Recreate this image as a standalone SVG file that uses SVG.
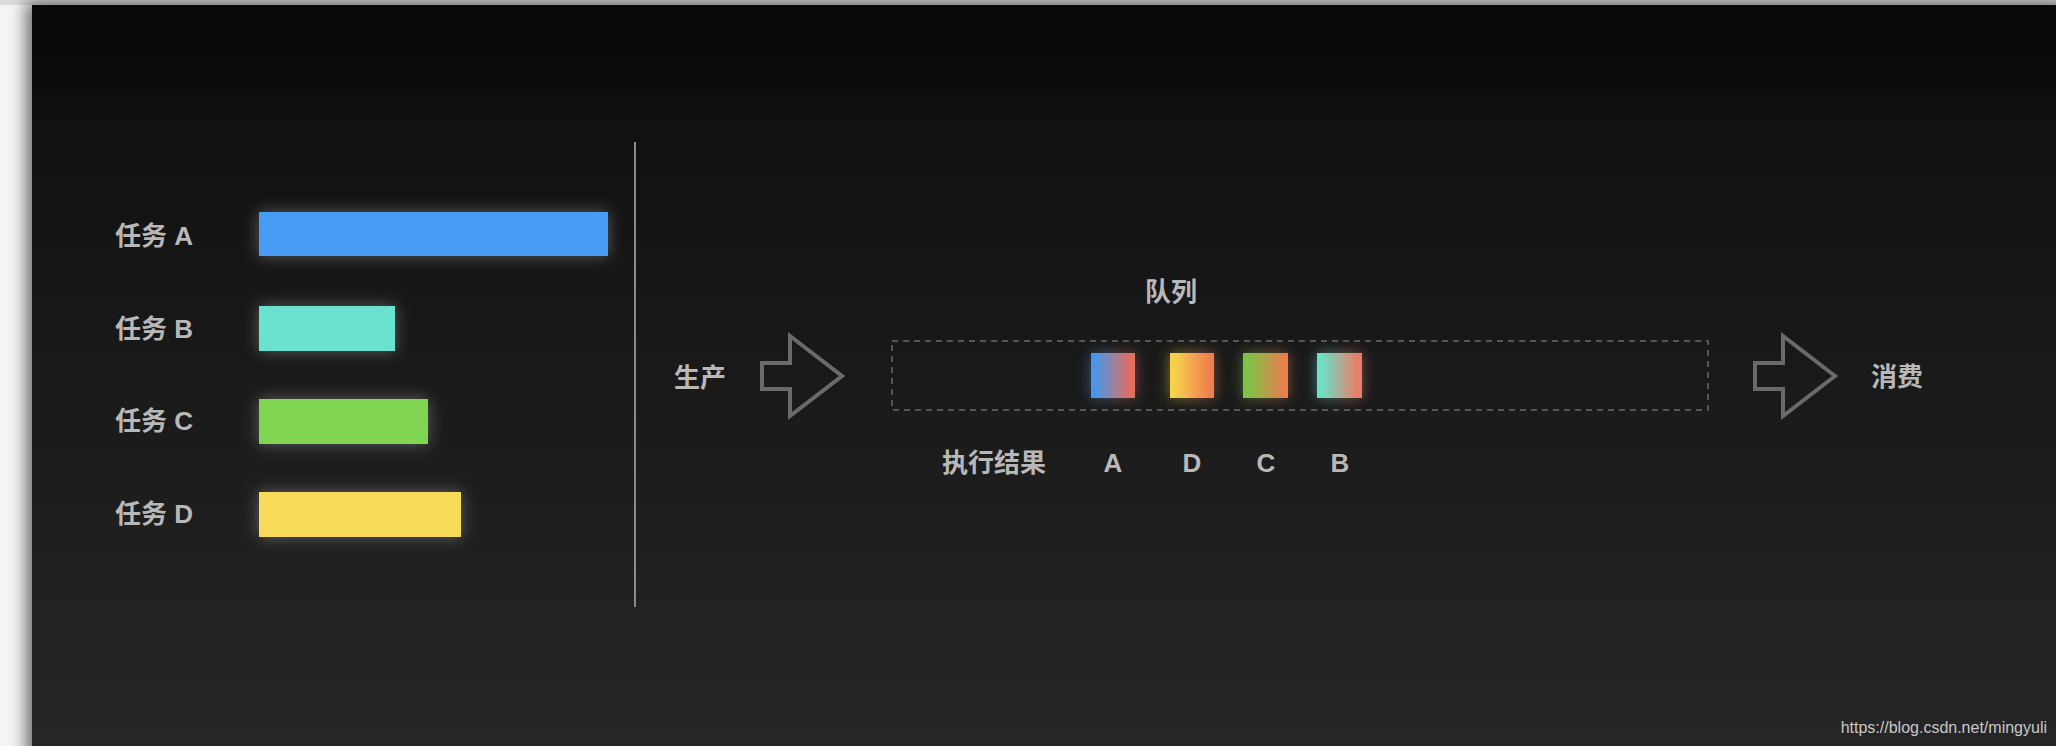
<svg xmlns="http://www.w3.org/2000/svg" width="2056" height="746" viewBox="0 0 2056 746">
<defs>
<linearGradient id="bg" x1="0" y1="0" x2="0" y2="1">
<stop offset="0" stop-color="#090909"/>
<stop offset="0.11" stop-color="#0b0b0b"/>
<stop offset="0.14" stop-color="#101010"/>
<stop offset="1" stop-color="#262626"/>
</linearGradient>
<linearGradient id="gA" x1="0" y1="0" x2="1" y2="0"><stop offset="0.1" stop-color="#4a96e8"/><stop offset="0.9" stop-color="#e26e5e"/></linearGradient>
<linearGradient id="gD" x1="0" y1="0" x2="1" y2="0"><stop offset="0.1" stop-color="#f6d24c"/><stop offset="0.9" stop-color="#f07e50"/></linearGradient>
<linearGradient id="gC" x1="0" y1="0" x2="1" y2="0"><stop offset="0.1" stop-color="#7cc444"/><stop offset="0.9" stop-color="#e6804e"/></linearGradient>
<linearGradient id="gB" x1="0" y1="0" x2="1" y2="0"><stop offset="0.1" stop-color="#6de0c8"/><stop offset="0.9" stop-color="#ea7e68"/></linearGradient>
<filter id="shadow" x="-10%" y="-10%" width="120%" height="120%"><feGaussianBlur stdDeviation="8"/></filter>
<filter id="glow" x="-30%" y="-80%" width="160%" height="260%">
<feGaussianBlur in="SourceAlpha" stdDeviation="8" result="b"/>
<feFlood flood-color="#ffffff" flood-opacity="0.3"/>
<feComposite in2="b" operator="in" result="g"/>
<feMerge><feMergeNode in="g"/><feMergeNode in="SourceGraphic"/></feMerge>
</filter>
<filter id="sqglow" x="-80%" y="-80%" width="260%" height="260%">
<feGaussianBlur in="SourceGraphic" stdDeviation="7" result="b"/>
<feComponentTransfer in="b" result="c"><feFuncA type="linear" slope="0.5"/></feComponentTransfer>
<feMerge><feMergeNode in="c"/><feMergeNode in="SourceGraphic"/></feMerge>
</filter>
<style>
.lbl{font-family:"Liberation Sans","Noto Sans CJK SC",sans-serif;font-size:26px;fill:#b8b8b8;font-weight:bold}
.arrow{fill:none;stroke:#6a6a6a;stroke-width:4;stroke-linejoin:miter}
.q{fill:none;stroke:#555;stroke-width:2;stroke-dasharray:6 5}
.wm{font-family:"Liberation Sans",sans-serif;font-size:16px;fill:#c8c8c8}
</style>
</defs>
<rect x="0" y="0" width="2056" height="746" fill="#f4f4f4"/>
<rect x="0" y="0" width="2056" height="5" fill="#dcdcdc"/>
<rect x="26" y="2" width="2040" height="760" fill="#000" opacity="0.55" filter="url(#shadow)"/>
<rect x="32" y="5" width="2024" height="741" fill="url(#bg)"/>

<g id="taskA"><rect x="259" y="212" width="349" height="44" fill="#4a9cf5" filter="url(#glow)"/><text class="lbl" x="115" y="245">任务 A</text></g>
<g id="taskB"><rect x="259" y="306" width="136" height="45" fill="#6ae2d0" filter="url(#glow)"/><text class="lbl" x="115" y="338">任务 B</text></g>
<g id="taskC"><rect x="259" y="399" width="169" height="45" fill="#80d552" filter="url(#glow)"/><text class="lbl" x="115" y="430">任务 C</text></g>
<g id="taskD"><rect x="259" y="492" width="202" height="45" fill="#f6dc58" filter="url(#glow)"/><text class="lbl" x="115" y="523">任务 D</text></g>

<line x1="635" y1="142" x2="635" y2="607" stroke="#8a8a8a" stroke-width="2"/>

<g id="producer"><text class="lbl" x="674" y="387">生产</text></g>
<g id="queue">
<rect class="q" x="892" y="341" width="816" height="69"/>
<text class="lbl" x="1145" y="301">队列</text>
<rect x="1091" y="353" width="44" height="45" fill="url(#gA)" filter="url(#sqglow)"/>
<rect x="1170" y="353" width="44" height="45" fill="url(#gD)" filter="url(#sqglow)"/>
<rect x="1243" y="353" width="45" height="45" fill="url(#gC)" filter="url(#sqglow)"/>
<rect x="1317" y="353" width="45" height="45" fill="url(#gB)" filter="url(#sqglow)"/>
</g>
<g id="result">
<text class="lbl" x="942" y="472">执行结果</text>
<text class="lbl" x="1113" y="472" text-anchor="middle">A</text>
<text class="lbl" x="1192" y="472" text-anchor="middle">D</text>
<text class="lbl" x="1266" y="472" text-anchor="middle">C</text>
<text class="lbl" x="1340" y="472" text-anchor="middle">B</text>
</g>
<g id="consumer"><text class="lbl" x="1871" y="386">消费</text></g>

<g id="connectors">
<polygon class="arrow" points="762,363 790,363 790,336 842,376 790,416 790,389 762,389"/>
<polygon class="arrow" points="1755,363 1783,363 1783,336 1835,376 1783,416 1783,389 1755,389"/>
</g>

<text class="wm" x="2047" y="733" text-anchor="end">https://blog.csdn.net/mingyuli</text>
</svg>
